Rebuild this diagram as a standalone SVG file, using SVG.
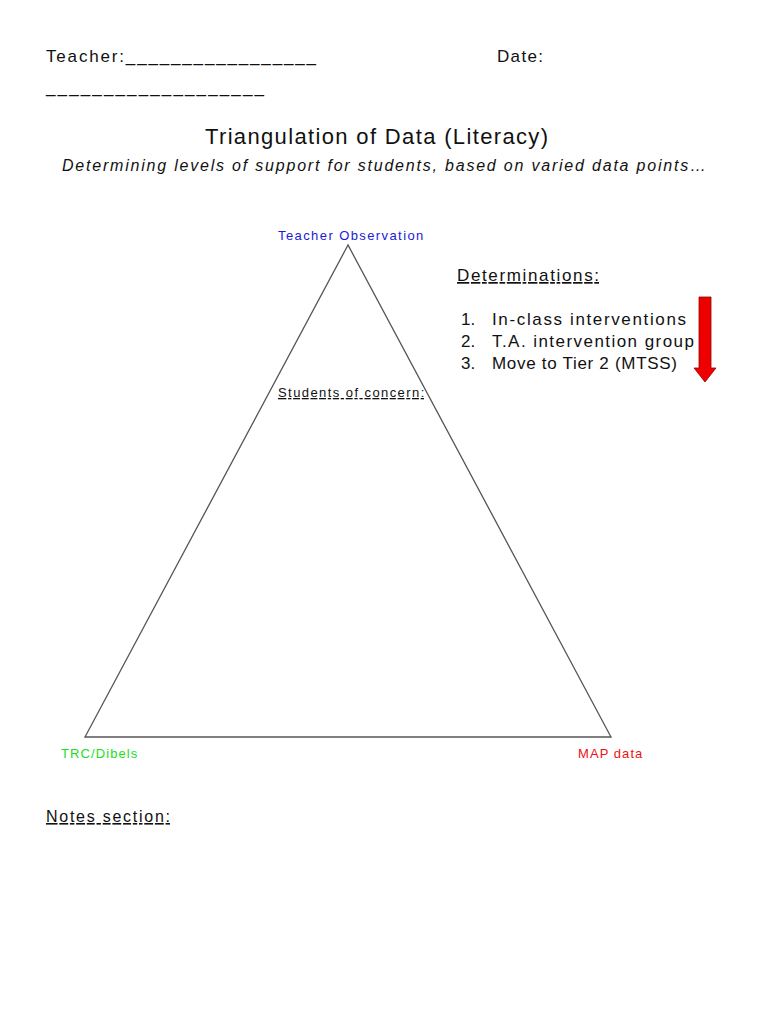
<svg xmlns="http://www.w3.org/2000/svg" width="768" height="1024" viewBox="0 0 768 1024">
<style>
text{font-family:"Liberation Sans",Arial,sans-serif;fill:#111}
.u{text-decoration:underline}
.s{font-size:13px;letter-spacing:-0.3px}
</style>
<rect width="768" height="1024" fill="#fff"/>
<g id="header">
<text x="46" y="62" font-size="17" textLength="270" lengthAdjust="spacing">Teacher:_________________</text>
<text x="497" y="62" font-size="17" textLength="46">Date:</text>
<text x="46" y="93" font-size="17" textLength="218" lengthAdjust="spacing">___________________</text>
<text x="205" y="144" font-size="22" textLength="343">Triangulation of Data (Literacy)</text>
<text x="62" y="171" font-size="16" font-style="italic" textLength="644">Determining levels of support for students, based on varied data points…</text>
</g>
<g id="triangle"><polygon points="348,245 85,737 611,737" fill="none" stroke="#555" stroke-width="1.3"/></g>
<g id="labels">
<text x="278" y="240" class="s" style="fill:#1a1ad8" textLength="145">Teacher Observation</text>
<text x="278" y="397" class="s u" textLength="146">Students of concern:</text>
<text x="61" y="758" class="s" style="fill:#22dd22" textLength="76">TRC/Dibels</text>
<text x="578" y="758" class="s" style="fill:#ee1111" textLength="64">MAP data</text>
<text x="46" y="822" font-size="16" class="u" textLength="124">Notes section:</text>
</g>
<g id="determinations">
<text x="457" y="281" font-size="17" class="u" textLength="142">Determinations:</text>
<text x="461" y="325" font-size="17">1.</text><text x="492" y="325" font-size="17" textLength="194">In-class interventions</text>
<text x="461" y="347" font-size="17">2.</text><text x="492" y="347" font-size="17" textLength="202">T.A. intervention group</text>
<text x="461" y="369" font-size="17">3.</text><text x="492" y="369" font-size="17" textLength="185">Move to Tier 2 (MTSS)</text>
</g>
<g id="connectors">
<path d="M699,297 H711 V368 H716 L705,382 L694,368 H699 Z" fill="#e00" stroke="#900" stroke-width="0.8"/>
</g>
</svg>
